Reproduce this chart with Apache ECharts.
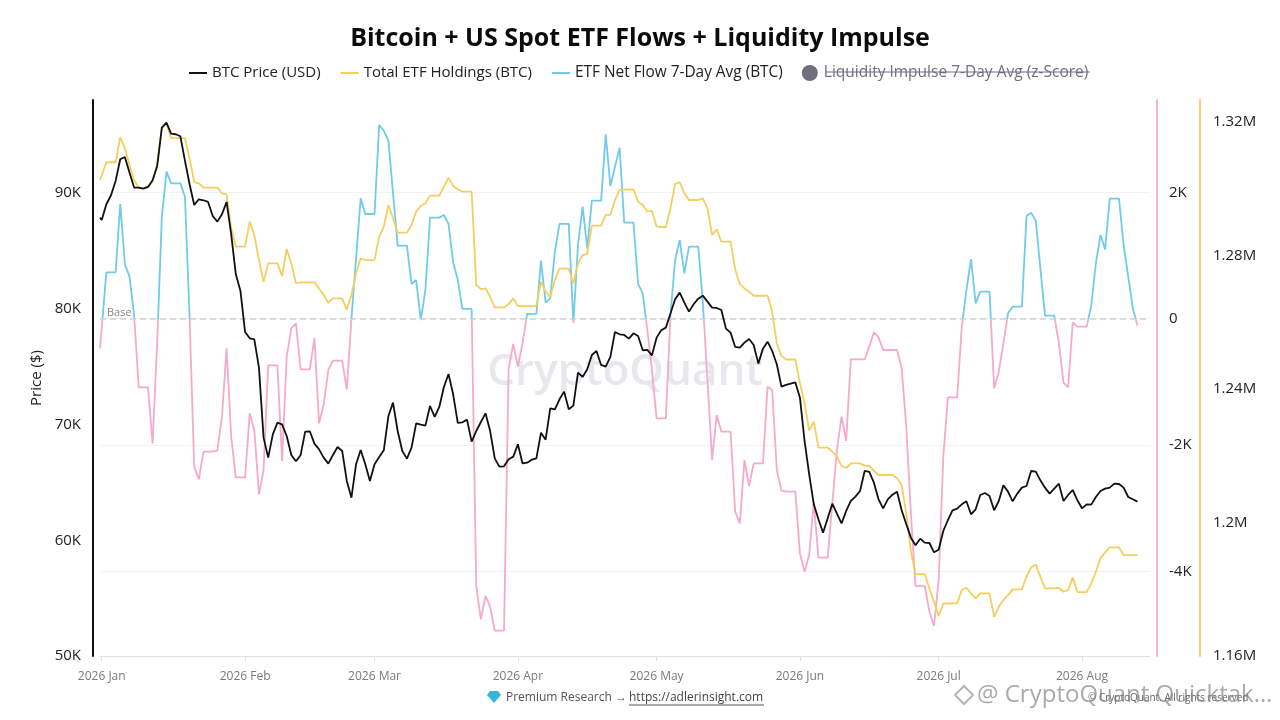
<!DOCTYPE html>
<html><head><meta charset="utf-8">
<style>html,body{margin:0;padding:0;background:#fff}#c{width:1280px;height:720px}</style>
<script src="https://cdn.jsdelivr.net/npm/echarts@6/dist/echarts.min.js"></script>
</head><body><div id="c"></div>
<script>
const FONT = '"Open Sans","Noto Sans",sans-serif';
const priceUSD = [
87886,87685,89039,89817,91056,92928,93130,91776,90480,90480,
90393,90537,91113,92352,95665,96097,95147,95089,94916,92784,
90767,88981,89471,89385,89240,88030,87540,88175,89240,86446,
82989,81548,78005,77457,77371,74923,68870,67142,69158,70167,
70023,69014,67372,66825,67343,69389,69418,68352,67862,67142,
66623,67372,68064,67718,65125,63685,66565,67804,66565,65125,
66565,67199,67776,70743,71895,69446,67718,67055,68006,70109,
69994,69907,71607,70657,71521,73249,74373,72616,70138,70196,
70426,68525,69446,70224,70973,69446,67084,66364,66393,66998,
67228,68294,66652,66710,66969,67084,69302,68698,71406,71319,
72183,72846,71319,71636,74490,74115,74778,76016,76362,75152,
75008,75844,78004,77803,77745,77428,77889,77659,76420,76449,
75988,77515,78148,78379,79600,80827,81403,80539,79761,80395,
80884,81143,80625,80107,80078,79905,78292,77946,76707,76649,
77081,77398,76880,75267,76563,77168,76361,75209,73278,73423,
73537,73653,72327,68582,65701,63108,61812,60659,61898,63166,
62302,61466,62532,63396,63771,64261,65989,65903,64981,63541,
62763,63541,63944,64203,62590,61380,60227,59565,60141,59795,
59766,58960,59190,60803,61754,62590,62734,63109,63368,62244,
62676,63915,64088,63829,62590,63397,64751,64203,63368,64030,
64549,64693,65989,65932,65183,64549,64030,64463,64895,63397,
63915,64347,63454,62763,63109,63080,63742,64261,64463,64549,
64895,64866,64549,63742,63541,63339];
const holdingsBTC = [
1302650,1302650,1307950,1307950,1307950,1315450,1312150,1307150,1302650,1300350,
1300150,1300450,1302150,1307650,1318150,1319650,1315150,1315150,1315150,1315150,
1309150,1301950,1301650,1300350,1300350,1300350,1300350,1298650,1298350,1288150,
1282650,1282650,1282650,1290150,1286150,1278650,1272150,1277650,1277650,1277650,
1273850,1281950,1277650,1271650,1271950,1271950,1271950,1271950,1270150,1268150,
1265850,1267150,1267150,1267150,1263650,1268150,1274650,1279150,1278650,1278650,
1278650,1285650,1288650,1295150,1291150,1286850,1286850,1286850,1289150,1293150,
1294850,1295650,1297950,1297950,1297950,1300650,1303350,1300850,1299850,1299150,
1299150,1299150,1271150,1269950,1270150,1267650,1264450,1264450,1264450,1265450,
1267150,1264850,1264850,1264850,1264850,1264850,1272150,1269150,1267650,1272650,
1276050,1276050,1276050,1271650,1277650,1280150,1280450,1288950,1288950,1288950,
1292150,1292150,1296650,1299650,1299750,1299750,1299750,1296150,1295150,1293150,
1293450,1288650,1288550,1288550,1294140,1301440,1301940,1298640,1296640,1296640,
1296640,1297140,1294140,1286140,1287840,1284140,1284140,1284140,1275840,1271440,
1270140,1269140,1267940,1267940,1267940,1267940,1263140,1253640,1249940,1248840,
1248840,1248840,1241730,1235730,1227530,1230230,1222430,1222430,1222430,1221230,
1219730,1216930,1216330,1217730,1217730,1217730,1217030,1216930,1215530,1214230,
1214230,1214230,1214230,1213230,1211230,1202730,1191230,1184530,1184530,1184530,
1180230,1176230,1171930,1175730,1175730,1175750,1175750,1179750,1180450,1178750,
1177250,1178750,1178750,1178750,1171750,1174750,1176750,1178250,1179950,1179950,
1179950,1183750,1186550,1187450,1183750,1180250,1180250,1180250,1180450,1179250,
1179750,1183550,1179150,1179150,1179150,1181750,1185250,1189250,1191050,1192550,
1192550,1192550,1190250,1190250,1190250,1190250];
const netFlowBTC = [
-469,-469,734,734,734,1816,866,666,59,-1087,
-1087,-1087,-1974,-353,1616,2328,2143,2143,2143,1932,
20,-2343,-2544,-2106,-2106,-2106,-2090,-1552,-469,-1868,
-2512,-2512,-2512,-1499,-1763,-2781,-2396,-738,-738,-738,
-2254,-601,-152,-73,-801,-801,-801,-311,-1657,-1367,
-812,-664,-664,-664,-1119,0,956,1906,1658,1658,
1658,3067,2977,2819,1985,1156,1156,1156,550,613,
-21,455,1600,1600,1600,1642,1500,893,613,154,
154,154,-4243,-4761,-4391,-4560,-4940,-4940,-4940,-786,
-400,-759,-390,75,75,75,919,254,323,1061,
1500,1500,1500,-73,1167,1774,1114,1869,1869,1869,
2919,2101,2407,2708,1521,1521,1521,550,402,-179,
-812,-1578,-1578,-1578,59,930,1246,718,1140,1140,
1140,264,-971,-2238,-1525,-1789,-1789,-1789,-3056,-3241,
-2238,-2649,-2291,-2291,-2291,-1077,-1129,-2396,-2723,-2739,
-2739,-2739,-3716,-4006,-3742,-2898,-3784,-3784,-3784,-2924,
-2079,-1552,-1932,-644,-644,-644,-644,-443,-216,-295,
-496,-496,-496,-496,-786,-1710,-3082,-4233,-4233,-4233,
-4639,-4866,-4138,-2185,-1245,-1245,-1245,-126,454,945,
243,428,428,428,-1103,-839,-390,85,190,190,
190,1626,1679,1552,797,48,48,48,-390,-1008,
-1087,-58,-126,-126,-126,206,876,1325,1098,1900,
1900,1900,1167,665,164,-110];
const priceTicks = [50000,60000,70000,80000,90000];
const flowTicks = [-4000,-2000,0,2000];
const holdTicks = [1160000,1200000,1240000,1280000,1320000];
const monthTicks = [0,1,2,3,4,5,6,7].map(m => +new Date(2026,m,1));
const MONTHS = ['Jan','Feb','Mar','Apr','May','Jun','Jul','Aug'];
const names = ['BTC Price (USD)','Total ETF Holdings (BTC)','ETF Net Flow 7-Day Avg (BTC)','Liquidity Impulse 7-Day Avg (z-Score)'];
const xMin = +new Date(2025,11,31,15);
const xMax = +new Date(2026,7,15,17);
const times = priceUSD.map((_, i) => i === 0 ? xMin : +new Date(2026,0,i));
const pair = arr => arr.map((v,i) => [times[i], v]);
const kfmt = v => v === 0 ? '0' : (v/1000) + 'K';

const chart = echarts.init(document.getElementById('c'), null, {renderer:'canvas'});
chart.setOption({
  animation:false,
  textStyle:{fontFamily:FONT},
  title:[
    {text:'Bitcoin + US Spot ETF Flows + Liquidity Impulse',left:'center',top:21,
     textStyle:{fontFamily:FONT,fontSize:25,fontWeight:700,color:'#0b0b0b'}},
    {text:'CryptoQuant',left:625,top:350,padding:0,textAlign:'center',z:0,
     textStyle:{fontFamily:FONT,fontSize:44,fontWeight:600,color:'#e7e7ee'}},
    {text:'Premium Research \u2192',left:506,top:692,padding:0,z:1,
     textStyle:{fontFamily:FONT,fontSize:12,fontWeight:400,color:'#555'}},
    {text:'https://adlerinsight.com',left:629,top:692,padding:0,z:1,
     textStyle:{fontFamily:FONT,fontSize:12,fontWeight:400,color:'#444'}},
    {text:'\u00a9 CryptoQuant. All rights reserved',left:1088,top:693,padding:0,z:1,
     textStyle:{fontFamily:FONT,fontSize:10,fontWeight:400,color:'#666'}},
    {text:'@ CryptoQuant Quicktak\u2026',left:977,top:683,padding:0,z:7,
     textStyle:{fontFamily:FONT,fontSize:24,fontWeight:400,color:'rgba(125,125,125,0.65)'}}
  ],
  legend:{
    left:188,top:65,padding:0,itemGap:19,itemWidth:18,itemHeight:16,
    inactiveColor:'#6f6f80',
    selected:{[names[3]]:false},
    itemStyle:{opacity:0},
    textStyle:{fontFamily:FONT,fontSize:15,color:'#222'},
    data:[names[0],names[1],
      {name:names[2],textStyle:{fontFamily:FONT,fontSize:15.4,color:'#222'}},
      {name:names[3],icon:'circle',itemStyle:{opacity:1},textStyle:{fontFamily:FONT,fontSize:15.5}}]
  },
  grid:{left:100,right:130,top:100,bottom:64,containLabel:false},
  xAxis:{
    type:'value',min:xMin,max:xMax,
    axisLine:{show:true,onZero:false,lineStyle:{color:'#dedfe8',width:1}},
    axisTick:{show:true,length:5,lineStyle:{color:'#dedfe8'},customValues:monthTicks},
    splitLine:{show:false},
    axisLabel:{customValues:monthTicks,margin:15,fontFamily:FONT,fontSize:12,color:'#7a7a7a',
      formatter:v => new Date(v).getFullYear()+' '+MONTHS[new Date(v).getMonth()]}
  },
  yAxis:[
    {type:'value',position:'left',offset:7,min:50000,max:98050,
     name:'Price ($)',nameLocation:'middle',nameGap:47,nameTextStyle:{fontFamily:FONT,fontSize:15,color:'#222'},
     axisLine:{show:true,lineStyle:{color:'#111',width:2}},axisTick:{show:false,customValues:priceTicks},
     splitLine:{show:false},
     axisLabel:{customValues:priceTicks,margin:12,fontFamily:FONT,fontSize:15,color:'#222',formatter:kfmt}},
    {type:'value',position:'right',offset:7,min:-5341,max:3463,
     axisLine:{show:true,lineStyle:{color:'#f6b3d0',width:2}},axisTick:{show:false,customValues:flowTicks},
     splitLine:{show:true,lineStyle:{color:'#f3f3f5',width:1}},
     axisLabel:{customValues:flowTicks,margin:12,fontFamily:FONT,fontSize:15,color:'#222',formatter:kfmt}},
    {type:'value',position:'right',offset:50,min:1160000,max:1326600,
     axisLine:{show:true,lineStyle:{color:'#f2d26c',width:2}},axisTick:{show:false,customValues:holdTicks},
     splitLine:{show:false},
     axisLabel:{customValues:holdTicks,margin:13,fontFamily:FONT,fontSize:15,color:'#222',
       formatter:v => (v/1e6)+'M'}}
  ],
  visualMap:{show:false,type:'piecewise',seriesIndex:2,dimension:1,
    pieces:[{min:0,max:10000,color:'#70cbe8'},{min:-10000,max:0,color:'#f5a9cb'}]},
  series:[
    {name:names[0],type:'line',yAxisIndex:0,symbol:'none',z:5,data:pair(priceUSD),
     itemStyle:{color:'#111'},lineStyle:{color:'#111',width:1.8}},
    {name:names[1],type:'line',yAxisIndex:2,symbol:'none',z:4,data:pair(holdingsBTC),
     itemStyle:{color:'#f4cf5f'},lineStyle:{color:'#f4cf5f',width:1.8}},
    {name:names[2],type:'line',yAxisIndex:1,symbol:'none',z:3,data:pair(netFlowBTC),
     itemStyle:{color:'#70cbe8'},lineStyle:{width:1.8},
     markLine:{silent:true,symbol:'none',animation:false,
       lineStyle:{color:'#cfcfd6',type:[6,4],width:1.5},
       label:{show:true,position:'insideStartTop',formatter:'Base',fontFamily:FONT,fontSize:11,color:'#888',distance:[7,0]},
       data:[{yAxis:0}]}},
    {name:names[3],type:'line',yAxisIndex:0,symbol:'none',data:[],itemStyle:{color:'#6f6f80'}}
  ],
  graphic:[
    {type:'line',z:20,shape:{x1:825,y1:72,x2:1090,y2:72},style:{stroke:'#6f6f80',lineWidth:1}},
    {type:'line',z:20,shape:{x1:629,y1:705,x2:764,y2:705},style:{stroke:'#555',lineWidth:1}},
    {type:'polygon',z:20,shape:{points:[[490,691],[498,691],[501,695],[494,703],[487,695]]},style:{fill:'#35b6d8'}},
    {type:'polygon',z:20,shape:{points:[[964,686],[973,695],[964,704],[955,695]]},style:{fill:'none',stroke:'rgba(150,150,150,0.7)',lineWidth:2}}
  ]
});
</script></body></html>
